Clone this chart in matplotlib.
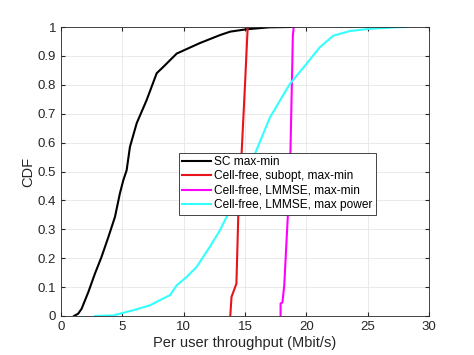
import numpy as np
import matplotlib.pyplot as plt

plt.rcParams['font.family'] = ['Liberation Sans', 'DejaVu Sans']

# CDF curves: throughput (Mbit/s) vs CDF
sc_x = [1.06, 1.4, 1.68, 2.23, 2.77, 3.3, 3.86, 4.4, 4.8, 5.08, 5.35, 5.62, 6.17, 6.98, 7.8, 8.34, 9.43, 11.3, 12.96, 13.8, 15.1, 17.0, 18.7]
sc_y = [0.0, 0.008, 0.025, 0.083, 0.147, 0.204, 0.273, 0.343, 0.424, 0.47, 0.504, 0.585, 0.667, 0.747, 0.84, 0.862, 0.908, 0.944, 0.972, 0.984, 0.992, 0.999, 1.0]

sub_x = [13.8, 13.9, 14.3, 14.45, 14.72, 15.0, 15.22]
sub_y = [0.0, 0.066, 0.112, 0.343, 0.56, 0.8, 1.0]

lm_x = [17.9, 17.9, 18.05, 18.2, 18.5, 18.7, 18.85, 18.9, 18.97]
lm_y = [0.0, 0.043, 0.047, 0.106, 0.354, 0.56, 0.862, 0.97, 1.0]

mp_x = [2.77, 4.26, 5.9, 7.25, 8.07, 8.88, 9.43, 10.24, 11.06, 12.14, 12.96, 13.77, 14.5, 15.1, 15.8, 17.03, 18.66, 20.0, 21.1, 22.2, 23.55, 25.2, 27.4, 28.3]
mp_y = [0.0, 0.002, 0.02, 0.037, 0.055, 0.072, 0.106, 0.135, 0.17, 0.24, 0.297, 0.366, 0.44, 0.5, 0.56, 0.687, 0.803, 0.872, 0.93, 0.97, 0.986, 0.994, 0.999, 1.0]

fig = plt.figure(figsize=(4.74, 3.55), dpi=100)
ax = fig.add_axes([61 / 474, 1 - 316 / 355, 368 / 474, 289 / 355])

ax.plot(sc_x, sc_y, color='k', lw=1.5, label='SC max-min')
ax.plot(sub_x, sub_y, color='#e8141a', lw=1.5, label='Cell-free, subopt, max-min')
ax.plot(lm_x, lm_y, color='#ff00ff', lw=1.5, label='Cell-free, LMMSE, max-min')
ax.plot(mp_x, mp_y, color='#33ffff', lw=1.5, label='Cell-free, LMMSE, max power')

ax.set_xlim(0, 30)
ax.set_ylim(0, 1)
ax.set_xticks(np.arange(0, 31, 5))
ax.set_yticks(np.arange(0, 1.01, 0.1))
ax.set_yticklabels(['0', '0.1', '0.2', '0.3', '0.4', '0.5', '0.6', '0.7', '0.8', '0.9', '1'])
ax.grid(True, color='#e6e6e6', lw=0.6)
ax.set_axisbelow(True)
ax.tick_params(direction='in', top=True, right=True, labelsize=9.5, colors='#262626', length=3)
for s in ax.spines.values():
    s.set_color('#262626')
    s.set_linewidth(0.6)

ax.set_xlabel('Per user throughput (Mbit/s)', fontsize=10.5, color='#262626', labelpad=2)
ax.set_ylabel('CDF', fontsize=10.5, color='#262626', labelpad=2)

leg = ax.legend(loc='lower left', bbox_to_anchor=(0.32, 0.35), fontsize=8.6,
                fancybox=False, framealpha=1, edgecolor='#262626',
                handlelength=2.4, handletextpad=0.25, borderpad=0.3, labelspacing=0.2,
                borderaxespad=0)
leg.get_frame().set_linewidth(0.6)

fig.savefig('out.png', dpi=100)
